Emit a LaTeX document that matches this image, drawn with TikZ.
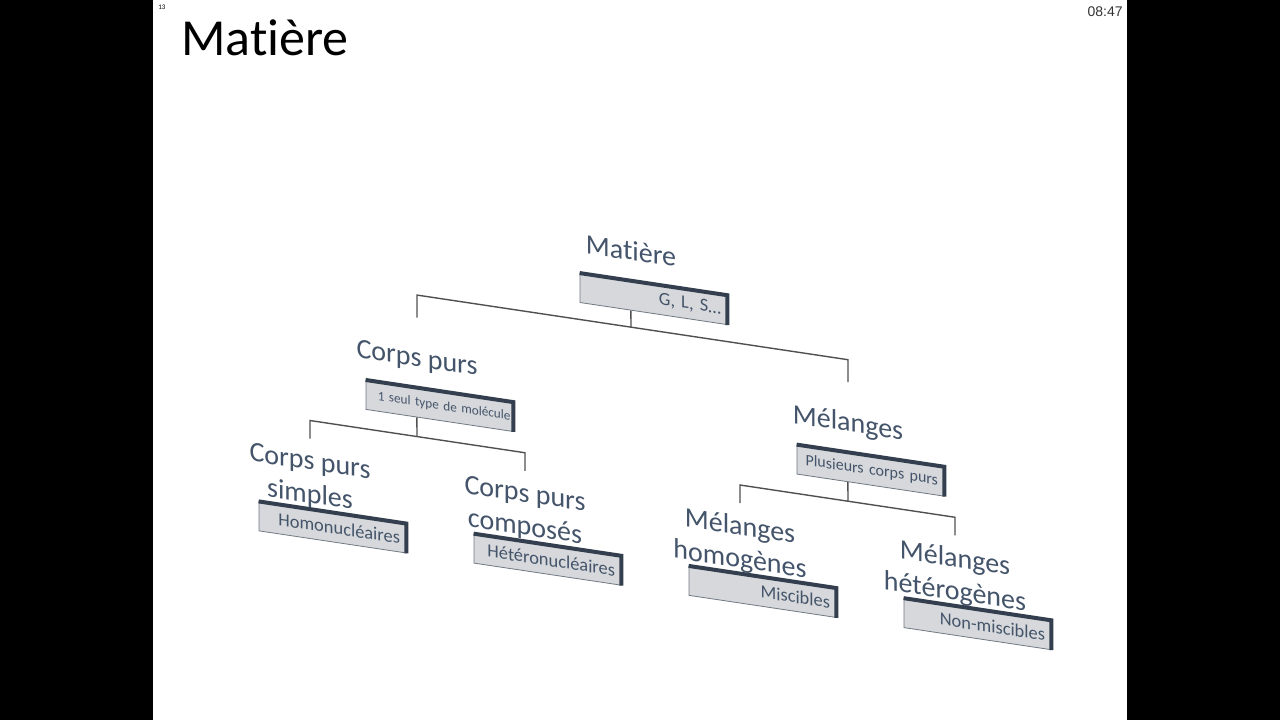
\documentclass[tikz,border=0pt]{standalone}
\usepackage{fontspec}
\setmainfont{Carlito}[Ligatures=NoCommon]
\newfontfamily\clockfont{Liberation Sans}
\usetikzlibrary{calc}
\definecolor{slate}{HTML}{44546A}
\definecolor{boxgray}{HTML}{D6D8DB}
\definecolor{boxedge}{HTML}{333F4F}
\definecolor{linkgray}{HTML}{505050}
\tikzset{
  headtext/.style={text=slate, font=\fontsize{14}{16.5}\selectfont, align=center, inner sep=0pt, transform shape},
  infobox/.style={fill=boxgray, draw=boxedge!70, line width=0.4pt, minimum width=73.5pt, minimum height=14.5pt,
    text width=67.5pt, inner xsep=3pt, inner ysep=0pt, align=right, text=slate, font=\fontsize{9.2}{10}\selectfont, transform shape},
  strip/.style={draw=boxedge, line width=2pt},
  link/.style={draw=linkgray, line width=0.7pt},
}
\begin{document}
\begin{tikzpicture}[x=0.5pt,y=-0.5pt]
            % Draw the slide
            \useasboundingbox (0,0) rectangle (1280,720);
            \fill[black] (0,0) rectangle (1280,720);
            \fill[white] (153,0) rectangle (1127,720);
            \node[anchor=north west, font=\fontsize{3.5}{4}\selectfont, inner sep=0pt] (num) at (158,5) {13};
            \node[anchor=base west, font=\fontsize{26}{30}\selectfont, inner sep=0pt] (title) at (181,55) {Matière};
            \node[anchor=east, font=\clockfont\fontsize{7}{8}\selectfont, text=black!80, inner sep=0pt] (clock) at (1123,12) {08:47};

            \begin{scope}[shift={(640,360)}, yslant=-0.15]
            % Draw the labels
            \node[headtext] (lmat) at (-9,-108) {Matière};
            \node[headtext] (lcp) at (-223,33) {Corps purs};
            \node[headtext] (lmel) at (208,33) {Mélanges};
            \node[headtext] (lcps) at (-330,169) {Corps purs\\simples};
            \node[headtext] (lcpc) at (-115,169) {Corps purs\\composés};
            \node[headtext] (lmho) at (100,169) {Mélanges\\homogènes};
            \node[headtext] (lmhe) at (315,169) {Mélanges\\hétérogènes};

            % Draw the boxes
            \node[infobox] (bmat) at (13.5,-63) {G, L, S…};
            \node[infobox, text width=71pt, inner xsep=1.25pt, font=\fontsize{6.6}{8}\selectfont] (bcp) at (-200.5,76) {1 seul type de molécule};
            \node[infobox, font=\fontsize{8}{9}\selectfont] (bmel) at (230.5,76) {Plusieurs corps purs};
            \node[infobox] (bcps) at (-307.5,213.5) {Homonucléaires};
            \node[infobox] (bcpc) at (-92.5,213.5) {Hétéronucléaires};
            \node[infobox] (bmho) at (122.5,213.5) {Miscibles};
            \node[infobox] (bmhe) at (337.5,213.5) {Non-miscibles};

            % Draw the dark top and right edges
            \foreach \b in {bmat, bcp, bmel, bcps, bcpc, bmho, bmhe} {
                \draw[strip] (\b.north west) -- (\b.north east) -- (\b.south east);
            }

            % Draw the links
            \foreach \n/\u/\v in {jmat/-9/-31.5, jcp/-223/-31.5, jmel/208/-31.5, tcp/-223/-9, tmel/208/-9,
                jcp2/-223/110, jcps/-330/110, jcpc/-115/110, tcps/-330/128, tcpc/-115/128,
                jmel2/208/110, jmho/100/110, jmhe/315/110, tmho/100/128, tmhe/315/128} {
                \coordinate (\n) at (\u,\v);
            }
            \draw[link] ($(bmat.south west)!0.347!(bmat.south east)$) -- (jmat);
            \draw[link] (tcp) -- (jcp) -- (jmel) -- (tmel);
            \draw[link] ($(bcp.south west)!0.347!(bcp.south east)$) -- (jcp2);
            \draw[link] (tcps) -- (jcps) -- (jcpc) -- (tcpc);
            \draw[link] ($(bmel.south west)!0.347!(bmel.south east)$) -- (jmel2);
            \draw[link] (tmho) -- (jmho) -- (jmhe) -- (tmhe);
            \end{scope}
        \end{tikzpicture}
\end{document}
